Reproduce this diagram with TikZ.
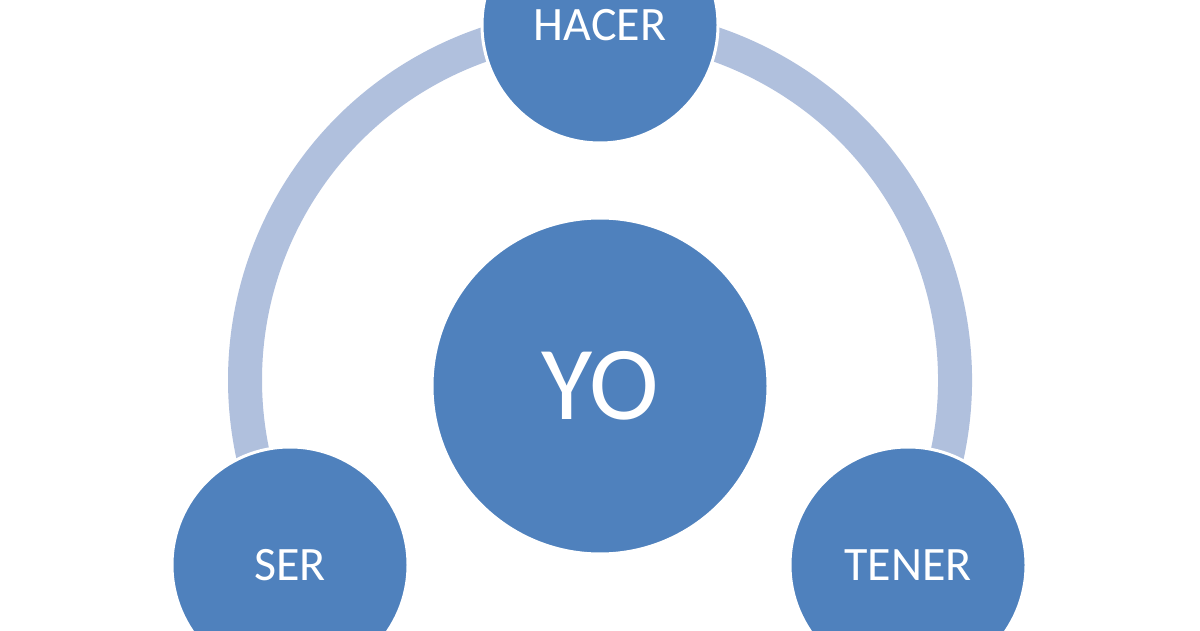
\documentclass[tikz,border=0pt]{standalone}
\usepackage{fontspec}
\setmainfont{Carlito}
\begin{document}
\begin{tikzpicture}[x=1pt,y=1pt,
  bub/.style={circle,fill={rgb,255:red,79;green,129;blue,189},draw=white,line width=3pt,text=white,inner sep=0pt}]
\useasboundingbox (0,0) rectangle (1200,630);
\fill[white] (0,0) rectangle (1200,630);
\coordinate (c) at (600,250);
\draw[line width=34pt,color={rgb,255:red,176;green,192;blue,221}] ([shift={(-30:355)}]c) arc[start angle=-30,end angle=210,radius=355];
\node[bub,minimum size=336pt,font=\fontsize{105}{105}\selectfont] (yo) at (600,244) {YO};
\node[bub,minimum size=236pt,font=\fontsize{48}{48}\selectfont] (hacer) at (600,605) {HACER};
\node[bub,minimum size=236pt,font=\fontsize{48}{48}\selectfont] (ser) at (290,65) {SER};
\node[bub,minimum size=236pt,font=\fontsize{48}{48}\selectfont] (tener) at (908,65) {TENER};
\end{tikzpicture}
\end{document}
